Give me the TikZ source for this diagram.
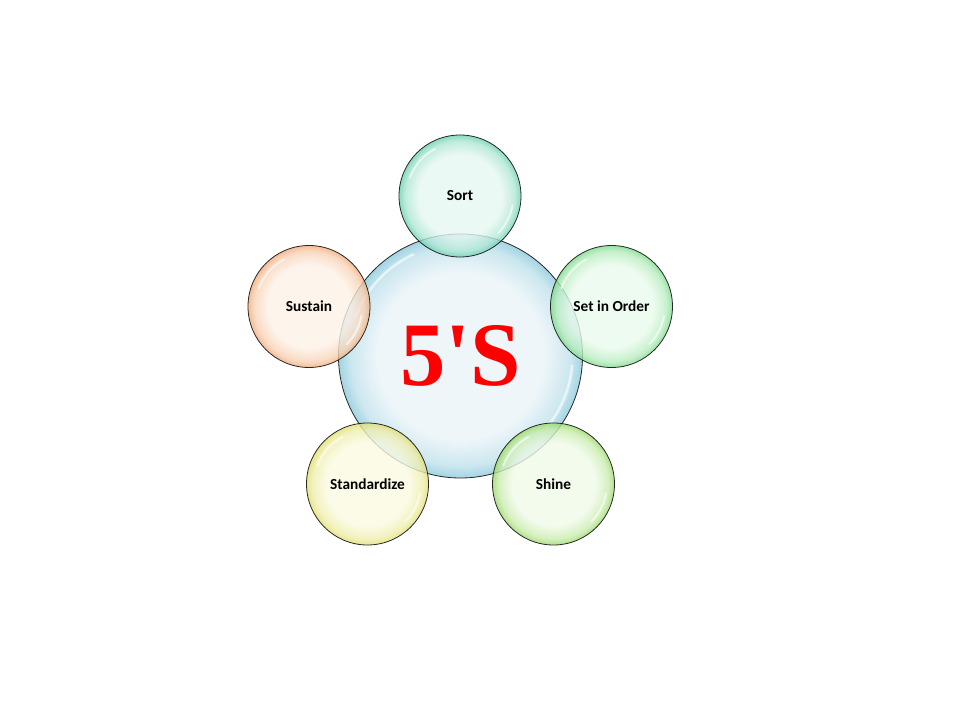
\documentclass[tikz,border=0pt]{standalone}
\usepackage{fontspec}
\setmainfont{Carlito}
\newfontfamily\bigfont{Liberation Serif}
\usepackage{tikz}
\usetikzlibrary{calc}
\definecolor{centercore}{HTML}{EAF4F8}
\definecolor{centerrim}{HTML}{8CCADC}
\definecolor{sortcore}{HTML}{E6F7F1}
\definecolor{sortrim}{HTML}{6CD2B2}
\definecolor{ordercore}{HTML}{EAFAEC}
\definecolor{orderrim}{HTML}{7EDC8C}
\definecolor{shinecore}{HTML}{F0FAE8}
\definecolor{shinerim}{HTML}{9CDB6A}
\definecolor{standardcore}{HTML}{FAFAE2}
\definecolor{standardrim}{HTML}{E2E070}
\definecolor{sustaincore}{HTML}{FDF1E7}
\definecolor{sustainrim}{HTML}{F2AE7C}
\pgfdeclareradialshading[bubcore,bubrim]{bubble}{\pgfpoint{0bp}{0bp}}{%
    color(0bp)=(bubcore); color(17bp)=(bubcore); color(22.5bp)=(bubrim!45!bubcore);
    color(25bp)=(bubrim); color(50bp)=(bubrim)}
\tikzset{
    bubble/.style = {
        circle,
        draw           = black!85,
        line width     = 0.6pt,
        shading        = bubble,
        fill opacity   = 0.8,
        text opacity   = 1,
        font           = \fontsize{11.5}{13}\selectfont\bfseries,
        /utils/exec    = {\colorlet{bubcore}{#1core}\colorlet{bubrim}{#1rim}},
    },
    small/.style = {
        minimum size   = 91.5pt,
        path picture   = {
            \draw [glare] ([shift={(118:40pt)}]path picture bounding box.center) arc [start angle=118, end angle=160, radius=40pt];
            \draw [glare] ([shift={(-10:40pt)}]path picture bounding box.center) arc [start angle=-10, end angle=-45, radius=40pt];
        },
    },
    glare/.style = {
        white,
        line width     = 1.5pt,
        draw opacity   = 0.6,
        line cap       = round,
    },
}

\begin{document}
\begin{tikzpicture}[x=0.75pt, y=-0.75pt]
    \useasboundingbox (0, 0) rectangle (960, 720);

    \node at (460.5, 356) (fiveS) [bubble=center, minimum size=183pt,
        path picture={
            \draw [glare, line width=2pt] ([shift={(115:84pt)}]path picture bounding box.center) arc [start angle=115, end angle=160, radius=84pt];
            \draw [glare, line width=2pt] ([shift={(-5:84pt)}]path picture bounding box.center) arc [start angle=-5, end angle=-40, radius=84pt];
        }] {};
    \node at (fiveS) [text=red, font=\bigfont\bfseries\fontsize{68}{70}\selectfont] {5'S};

    \node at (460, 196) (sort) [bubble=sort, small] {Sort};
    \node at (611.5, 306.5) (order) [bubble=order, small] {Set in Order};
    \node at (553.5, 484) (shine) [bubble=shine, small] {Shine};
    \node at (367.5, 484) (standard) [bubble=standard, small] {Standardize};
    \node at (309, 306.5) (sustain) [bubble=sustain, small] {Sustain};
\end{tikzpicture}
\end{document}
